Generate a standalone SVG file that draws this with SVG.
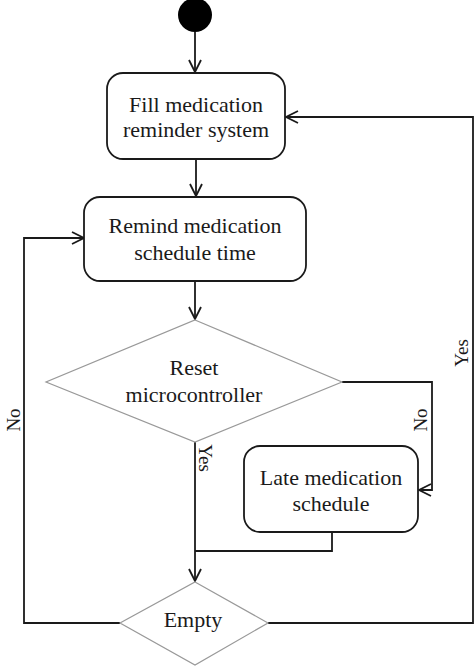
<svg xmlns="http://www.w3.org/2000/svg" width="474" height="667" viewBox="0 0 474 667">
<defs>
<marker id="arr" markerUnits="userSpaceOnUse" markerWidth="14" markerHeight="14" viewBox="0 0 14 14" refX="13" refY="7" orient="auto">
<path d="M1,1 L13,7 L1,13" fill="none" stroke="#1a1a1a" stroke-width="1.8"/>
</marker>
<style>
.box{fill:#fff;stroke:#1a1a1a;stroke-width:1.8}
.dia{fill:#fff;stroke:#999;stroke-width:1.2}
.t{font-family:"Liberation Serif","Times New Roman",serif;font-size:22px;fill:#1a1a1a;text-anchor:middle}
.lbl{font-family:"Liberation Serif","Times New Roman",serif;font-size:19px;fill:#1a1a1a;text-anchor:middle}
.c{fill:none;stroke:#1a1a1a;stroke-width:1.8}
</style>
</defs>
<rect width="474" height="667" fill="#fff"/>
<g id="connectors">
<path class="c" d="M195,32 V72" marker-end="url(#arr)"/>
<path class="c" d="M196,159 V196" marker-end="url(#arr)"/>
<path class="c" d="M195,281 V319" marker-end="url(#arr)"/>
<path class="c" d="M342,382 H432 V490 H419" marker-end="url(#arr)"/>
<path class="c" d="M195,442 V581" marker-end="url(#arr)"/>
<path class="c" d="M332,532 V551 H195"/>
<path class="c" d="M120,623 H24 V238 H84" marker-end="url(#arr)"/>
<path class="c" d="M268,623 H473 V117 H286" marker-end="url(#arr)"/>
<text class="lbl" transform="translate(427,420) rotate(-90)">No</text>
<text class="lbl" transform="translate(199,458) rotate(90)">Yes</text>
<text class="lbl" transform="translate(20,420) rotate(-90)">No</text>
<text class="lbl" transform="translate(468,353) rotate(-90)">Yes</text>
</g>
<g id="start"><circle cx="195" cy="15" r="17" fill="#000"/></g>
<g id="fill">
<rect class="box" x="107" y="73" width="178" height="86" rx="16"/>
<text class="t" x="196" y="112">Fill medication</text>
<text class="t" x="196" y="137">reminder system</text>
</g>
<g id="remind">
<rect class="box" x="84" y="197" width="222" height="84" rx="16"/>
<text class="t" x="195" y="233">Remind medication</text>
<text class="t" x="195" y="260">schedule time</text>
</g>
<g id="reset">
<polygon class="dia" points="195,320 342,382 195,442 46,382"/>
<text class="t" x="194" y="375">Reset</text>
<text class="t" x="194" y="402">microcontroller</text>
</g>
<g id="late">
<rect class="box" x="244" y="446" width="174" height="86" rx="16"/>
<text class="t" x="331" y="485">Late medication</text>
<text class="t" x="331" y="511">schedule</text>
</g>
<g id="empty">
<polygon class="dia" points="195,582 268,623 195,665 120,623"/>
<text class="t" x="193" y="627">Empty</text>
</g>
</svg>
